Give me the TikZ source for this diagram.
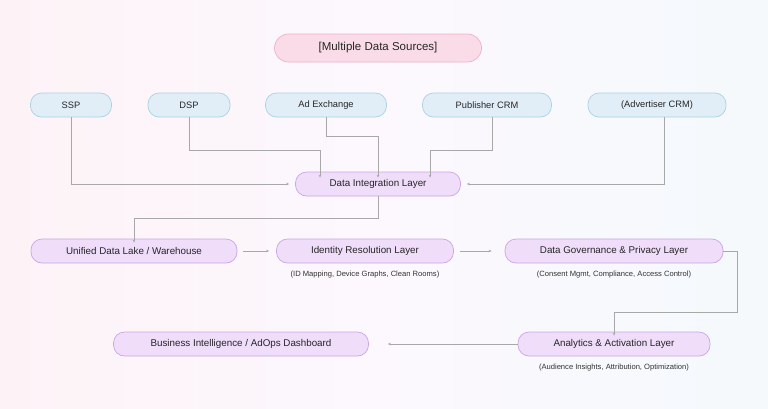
\documentclass[tikz,border=0pt]{standalone}
\usepackage{fontspec}
\setmainfont{Liberation Sans}
\usetikzlibrary{arrows.meta}
\definecolor{lavf}{HTML}{EFDDF9}
\definecolor{lavd}{HTML}{C9A6E4}
\definecolor{bluf}{HTML}{E1EEF7}
\definecolor{blud}{HTML}{A8D3E3}
\definecolor{pinf}{HTML}{FADCE8}
\definecolor{pind}{HTML}{EFAFC8}
\definecolor{lnc}{HTML}{A8A8A8}
\begin{document}
\begin{tikzpicture}[x=1pt,y=-1pt,
 box/.style={rounded corners=11pt,draw=lavd,fill=lavf,line width=0.7pt,minimum height=24pt,font=\fontsize{9.8}{11}\selectfont,text=black!85,inner sep=0pt},
 src/.style={box,draw=blud,fill=bluf,font=\fontsize{9.3}{11}\selectfont},
 sub/.style={font=\fontsize{7.6}{9}\selectfont,text=black!80},
 ln/.style={draw=lnc,line width=0.6pt,-{Stealth[length=3pt,width=2.5pt]}}]
\shade[left color=pinf!35,right color=bluf!35,middle color=lavf!20] (0,0) rectangle (768,408);
\useasboundingbox (0,0) rectangle (768,408);
\node[box,draw=pind,fill=pinf,minimum width=207pt,minimum height=28pt,rounded corners=14pt,font=\fontsize{11.5}{13}\selectfont] (ms) at (378,48) {[Multiple Data Sources]};
\node[src,minimum width=81pt] (ssp) at (71,105) {SSP};
\node[src,minimum width=82pt] (dsp) at (189,105) {DSP};
\node[src,minimum width=121pt] (adx) at (326,105) {Ad Exchange};
\node[src,minimum width=129pt] (pub) at (487,105) {Publisher CRM};
\node[src,minimum width=138pt] (adv) at (657,105) {(Advertiser CRM)};
\node[box,minimum width=165pt] (dil) at (378,184) {Data Integration Layer};
\node[box,minimum width=206pt] (udl) at (134,251) {Unified Data Lake / Warehouse};
\node[box,minimum width=177pt] (irl) at (365,251) {Identity Resolution Layer};
\node[box,minimum width=218pt] (dgp) at (614,251) {Data Governance \& Privacy Layer};
\node[box,minimum width=192pt] (aal) at (614,344) {Analytics \& Activation Layer};
\node[box,minimum width=255pt] (bi) at (241,344) {Business Intelligence / AdOps Dashboard};
\node[sub] (s1) at (365,275) {(ID Mapping, Device Graphs, Clean Rooms)};
\node[sub] (s2) at (614,275) {(Consent Mgmt, Compliance, Access Control)};
\node[sub] (s3) at (614,368) {(Audience Insights, Attribution, Optimization)};
\coordinate (dilw) at ([xshift=-6pt]dil.west);
\coordinate (dile) at ([xshift=6pt]dil.east);
\draw[ln] (ssp.south) |- (dilw);
\draw[ln] (dsp.south) -- ++(0,33) -| ([xshift=-58pt,yshift=-6pt]dil.north);
\draw[ln] (adx.south) -- ++(0,19) -| ([yshift=-6pt]dil.north);
\draw[ln] ([xshift=5pt]pub.south) -- ++(0,33) -| ([xshift=52pt,yshift=-6pt]dil.north);
\draw[ln] ([xshift=7pt]adv.south) |- (dile);
\draw[ln] (dil.south) -- ++(0,22) -| ([yshift=-4pt]udl.north);
\draw[ln] ([xshift=6pt]udl.east) -- ([xshift=-7pt]irl.west);
\draw[ln] ([xshift=6pt]irl.east) -- ([xshift=-13pt]dgp.west);
\draw[ln] (dgp.east) -- ++(14,0) -- ++(0,61) -| ([yshift=-4pt]aal.north);
\draw[ln] (aal.west) -- ([xshift=19pt]bi.east);
\end{tikzpicture}
\end{document}
